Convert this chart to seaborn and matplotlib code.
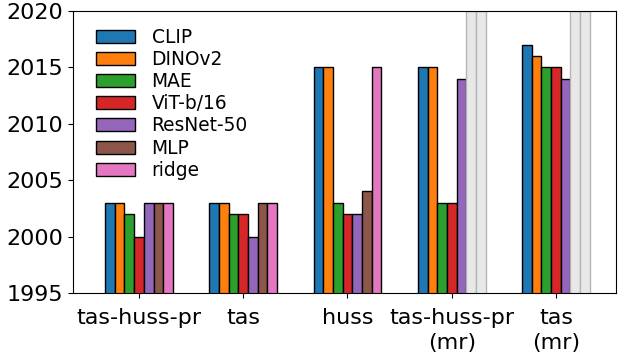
import numpy as np
import pandas as pd
import matplotlib
matplotlib.use("Agg")
import matplotlib.pyplot as plt
import seaborn as sns

groups = ["tas-huss-pr", "tas", "huss", "tas-huss-pr\n(mr)", "tas\n(mr)"]
models = ["CLIP", "DINOv2", "MAE", "ViT-b/16", "ResNet-50", "MLP", "ridge"]
clip = [2003, 2003, 2015, 2015, 2017]
dinov2 = [2003, 2003, 2015, 2015, 2016]
mae = [2002, 2002, 2003, 2003, 2015]
vit = [2000, 2002, 2002, 2003, 2015]
resnet = [2003, 2000, 2002, 2014, 2014]
mlp = [2003, 2003, 2004, np.nan, np.nan]
ridge = [2003, 2003, 2015, np.nan, np.nan]
series = [clip, dinov2, mae, vit, resnet, mlp, ridge]
ymin, ymax = 1995, 2020

rows = []
for m, vals in zip(models, series):
    for g, v in zip(groups, vals):
        rows.append({"group": g, "model": m, "year": v,
                     "missing": ymax if np.isnan(v) else np.nan})
df = pd.DataFrame(rows)

fig = plt.figure(figsize=(6.34, 3.59), dpi=100)
ax = fig.add_axes([73/634, 1-293/359, (616-73)/634, (293-11)/359])

pal = sns.color_palette("tab10", 7)
sns.barplot(data=df, x="group", y="year", hue="model", order=groups,
            hue_order=models, palette=pal, saturation=1, width=0.65,
            edgecolor="black", linewidth=1.0, ax=ax, errorbar=None)
handles, labels = ax.get_legend_handles_labels()
sns.barplot(data=df, x="group", y="missing", hue="model", order=groups,
            hue_order=models, palette=["#e8e8e8"] * 7, saturation=1, width=0.65,
            edgecolor="#b5b5b5", linewidth=1.0, ax=ax, errorbar=None, legend=False)

ax.set_ylim(ymin, ymax)
ax.set_xlim(-0.633, 4.576)
ax.set_yticks(np.arange(ymin, ymax + 1, 5))
ax.set_xlabel("")
ax.set_ylabel("")
ax.tick_params(axis="both", labelsize=16)
ax.tick_params(axis="x", pad=7.5)
for lbl in ax.get_xticklabels():
    lbl.set_linespacing(1.3)
for s in ax.spines.values():
    s.set_visible(True)
    s.set_color("black")
ax.legend(handles, labels, loc="upper left", frameon=False, fontsize=13.4,
          bbox_to_anchor=(6/543, 1.0), borderaxespad=0.5,
          labelspacing=0.17, handletextpad=0.9, handlelength=2.1)

fig.savefig("out.png", dpi=100)
